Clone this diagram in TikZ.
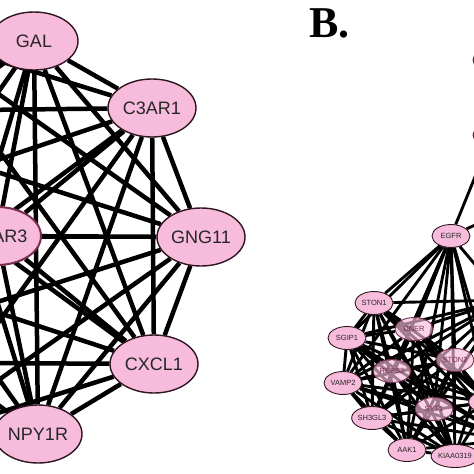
\documentclass[tikz,border=0pt]{standalone}
\usepackage{fontspec}
\setmainfont{Liberation Sans}
\newfontfamily\serifB{Liberation Serif}
\usetikzlibrary{shapes.geometric}
\pgfdeclarelayer{bg}
\pgfdeclarelayer{edges}
\pgfsetlayers{bg,edges,main}
\definecolor{nodepink}{HTML}{F7BCDB}
\definecolor{nodeline}{HTML}{301522}
\definecolor{darkrim}{HTML}{7A2E4E}
\tikzset{
  bignode/.style={ellipse, draw=nodeline, line width=1.4pt, fill=nodepink,
    minimum width=88pt, minimum height=58pt, inner sep=0pt,
    font=\fontsize{18}{18}\selectfont, text=black!85},
  smallnode/.style={ellipse, draw=nodeline, line width=0.9pt, fill=nodepink,
    minimum width=38pt, minimum height=23pt, inner sep=0pt,
    font=\fontsize{7.5}{7.5}\selectfont, text=black!85},
  innernode/.style={smallnode, fill opacity=0.65, text opacity=1,
    draw=darkrim, text=darkrim},
  bigedge/.style={line width=4.5pt, black},
  smalledge/.style={line width=2.9pt, black},
}
\begin{document}
\begin{tikzpicture}[x=1pt,y=-1pt]
\useasboundingbox (0,0) rectangle (474,474);
\begin{pgfonlayer}{bg}
  \fill[white] (0,0) rectangle (474,474);
\end{pgfonlayer}
\clip (0,0) rectangle (474,474);

% ---------- left network ----------
\node[bignode] (GAL) at (34,41) {GAL};
\node[bignode] (C3AR1) at (152,108) {C3AR1};
\node[bignode] (GNG11) at (201,237) {GNG11};
\node[bignode] (CXCL1) at (154,364) {CXCL1};
\node[bignode] (NPY1R) at (38,434) {NPY1R};
\node[bignode, draw=darkrim, line width=2pt] (HCAR3) at (-3,236) {HCAR3};
\coordinate (L1) at (-85,439);
\coordinate (L2) at (-191,362);
\coordinate (L3) at (-232,237);
\coordinate (L4) at (-191,112);
\coordinate (L5) at (-85,35);

% ---------- right network ----------
\node[anchor=base west, font=\serifB\bfseries\fontsize{44}{44}\selectfont] (lblB) at (306,37) {B.};

\node[innernode] (DNER) at (414,329) {DNER};
\node[innernode] (STON2) at (455,360) {STON2};
\node[innernode] (REPS2) at (392,371) {REPS2};
\node[innernode] (SYT1) at (434,409) {SYT1};
\node[smallnode] (EGFR) at (451,236) {EGFR};
\node[smallnode] (STON1) at (374,303) {STON1};
\node[smallnode] (SGIP1) at (347,338) {SGIP1};
\node[smallnode] (VAMP2) at (343,383) {VAMP2};
\node[smallnode] (SH3GL3) at (372,418) {SH3GL3};
\node[smallnode] (AAK1) at (407,450) {AAK1};
\node[smallnode] (KIAA0319) at (455,456) {KIAA0319};
\node[smallnode] (SNAP91) at (489,402) {SNAP91};
\node[smallnode] (T1) at (492,60) {};
\node[smallnode] (T2) at (492,135) {};
\coordinate (R1) at (505,300);
\coordinate (R2) at (510,440);
\coordinate (R3) at (530,200);

\begin{pgfonlayer}{edges}
  \clip (0,0) rectangle (474,474);
  \foreach \a [count=\i] in {GAL,C3AR1,GNG11,CXCL1,NPY1R,HCAR3,L1,L2,L3,L4,L5}{
    \foreach \b [count=\j] in {GAL,C3AR1,GNG11,CXCL1,NPY1R,HCAR3,L1,L2,L3,L4,L5}{
      \ifnum\j>\i \draw[bigedge] (\a) -- (\b); \fi
    }
  }
  \foreach \a [count=\i] in {STON1,SGIP1,DNER,STON2,REPS2,VAMP2,SH3GL3,SYT1,AAK1,KIAA0319,SNAP91,R1,R2}{
    \draw[smalledge] (EGFR) -- (\a);
    \foreach \b [count=\j] in {STON1,SGIP1,DNER,STON2,REPS2,VAMP2,SH3GL3,SYT1,AAK1,KIAA0319,SNAP91,R1,R2}{
      \ifnum\j>\i \draw[smalledge] (\a) -- (\b); \fi
    }
  }
  \draw[smalledge] (EGFR) -- (T2);
  \draw[smalledge] (EGFR) -- (R3);
\end{pgfonlayer}
\end{tikzpicture}
\end{document}
